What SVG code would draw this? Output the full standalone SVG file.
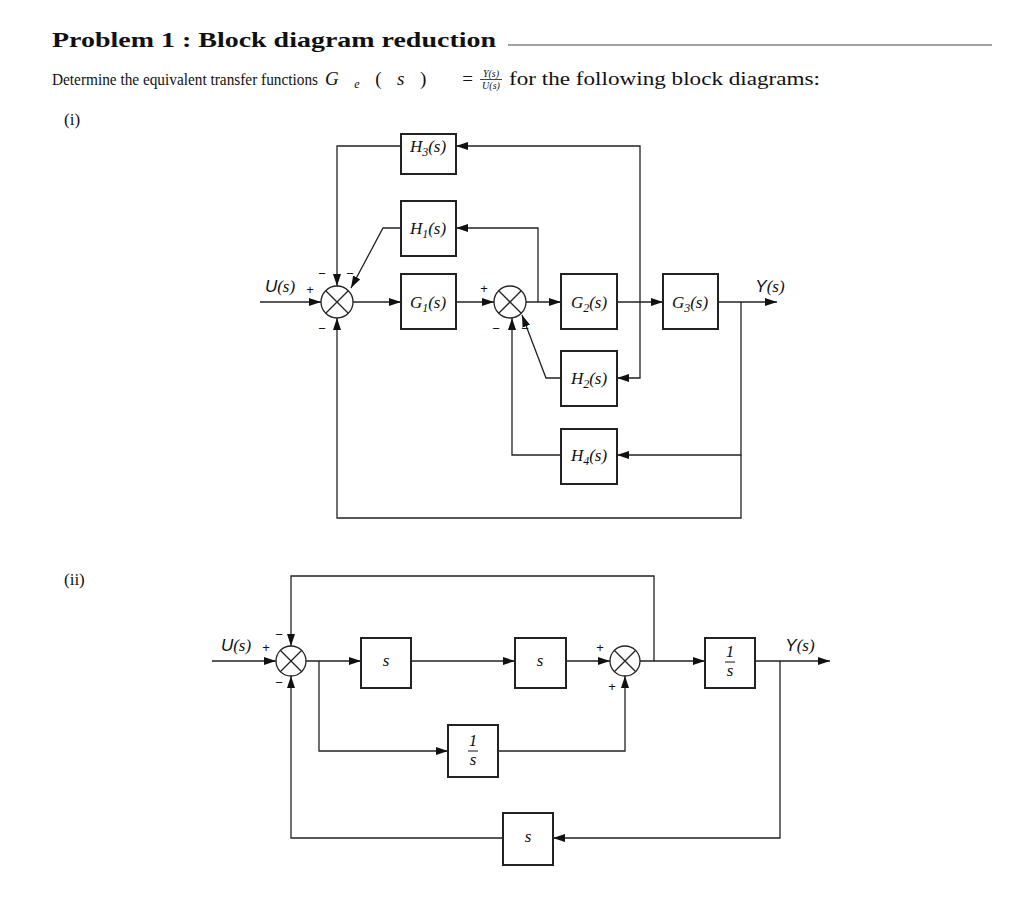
<svg xmlns="http://www.w3.org/2000/svg" width="1024" height="899" viewBox="0 0 1024 899">
<defs>
<marker id="ar" markerWidth="12" markerHeight="8" refX="12" refY="4" orient="auto" markerUnits="userSpaceOnUse"><path d="M0,0L12,4L0,8z" fill="#111"/></marker>
<style>
.b{fill:#fff;stroke:#222;stroke-width:2}
.c{fill:none;stroke:#222;stroke-width:1.3}
.l{fill:none;stroke:#222;stroke-width:1.3}
.t{font-family:"Liberation Serif",serif;font-style:italic;font-size:17px;text-anchor:middle;fill:#111}
.s{font-family:"Liberation Sans",sans-serif;font-size:13px;fill:#111;text-anchor:middle}
.h{font-family:"Liberation Serif",serif;fill:#111}
</style>
</defs>
<rect width="1024" height="899" fill="#fff"/>
<text class="h" x="52" y="47" font-size="22" font-weight="bold" textLength="444" lengthAdjust="spacingAndGlyphs">Problem 1 : Block diagram reduction</text>
<line x1="508" y1="45" x2="992" y2="45" stroke="#444" stroke-width="1"/>
<text class="h" x="52" y="85" font-size="17" textLength="266" lengthAdjust="spacingAndGlyphs">Determine the equivalent transfer functions</text>
<text class="h" x="325" y="85" font-size="19" textLength="148" lengthAdjust="spacing"><tspan font-style="italic">G</tspan><tspan font-style="italic" font-size="12" dy="3">e</tspan><tspan dy="-3">(</tspan><tspan font-style="italic">s</tspan>) =</text>
<text class="h" x="509" y="85" font-size="18" textLength="311" lengthAdjust="spacingAndGlyphs">for the following block diagrams:</text>
<text class="h" x="491" y="77" font-size="10" font-style="italic" text-anchor="middle">Y(s)</text>
<line x1="480" y1="79.5" x2="502" y2="79.5" stroke="#111" stroke-width="0.8"/>
<text class="h" x="491" y="89" font-size="10" font-style="italic" text-anchor="middle">U(s)</text>
<text class="h" x="64" y="125" font-size="17">(i)</text>
<text class="h" x="64" y="585" font-size="17">(ii)</text>

<g id="connectors1">
<path class="l" d="M260,302H321" marker-end="url(#ar)"/>
<path class="l" d="M353,302H401" marker-end="url(#ar)"/>
<path class="l" d="M456,302H494" marker-end="url(#ar)"/>
<path class="l" d="M526,302H561" marker-end="url(#ar)"/>
<path class="l" d="M617,302H663" marker-end="url(#ar)"/>
<path class="l" d="M718,302H777" marker-end="url(#ar)"/>
<path class="l" d="M401,146H337V286" marker-end="url(#ar)"/>
<path class="l" d="M401,228H383L351,288" marker-end="url(#ar)"/>
<path class="l" d="M538,302V228H456" marker-end="url(#ar)"/>
<path class="l" d="M640,302V146H456" marker-end="url(#ar)"/>
<path class="l" d="M640,302V378H617" marker-end="url(#ar)"/>
<path class="l" d="M561,378H546L522,315" marker-end="url(#ar)"/>
<path class="l" d="M741,302V455H617" marker-end="url(#ar)"/>
<path class="l" d="M561,455H512V318" marker-end="url(#ar)"/>
<path class="l" d="M741,455V518H337V318" marker-end="url(#ar)"/>
</g>
<g id="sum1"><circle class="c" cx="337" cy="302" r="16"/><path class="l" d="M326,291L348,313M348,291L326,313"/></g>
<g id="sum2"><circle class="c" cx="510" cy="302" r="16"/><path class="l" d="M499,291L521,313M521,291L499,313"/></g>
<g id="H3"><rect class="b" x="401" y="134" width="55" height="40"/><text class="t" x="428" y="152">H<tspan font-size="12" dy="4">3</tspan><tspan dy="-4">(s)</tspan></text></g>
<g id="H1"><rect class="b" x="401" y="201" width="55" height="55"/><text class="t" x="428" y="234">H<tspan font-size="12" dy="4">1</tspan><tspan dy="-4">(s)</tspan></text></g>
<g id="G1"><rect class="b" x="401" y="274" width="55" height="55"/><text class="t" x="428" y="308">G<tspan font-size="12" dy="4">1</tspan><tspan dy="-4">(s)</tspan></text></g>
<g id="G2"><rect class="b" x="561" y="274" width="56" height="55"/><text class="t" x="589" y="308">G<tspan font-size="12" dy="4">2</tspan><tspan dy="-4">(s)</tspan></text></g>
<g id="G3"><rect class="b" x="663" y="274" width="55" height="55"/><text class="t" x="690" y="308">G<tspan font-size="12" dy="4">3</tspan><tspan dy="-4">(s)</tspan></text></g>
<g id="H2"><rect class="b" x="561" y="351" width="56" height="55"/><text class="t" x="589" y="384">H<tspan font-size="12" dy="4">2</tspan><tspan dy="-4">(s)</tspan></text></g>
<g id="H4"><rect class="b" x="561" y="429" width="56" height="55"/><text class="t" x="589" y="461">H<tspan font-size="12" dy="4">4</tspan><tspan dy="-4">(s)</tspan></text></g>
<g id="labels1">
<text class="t" x="280" y="292" font-style="normal"><tspan font-family="Liberation Sans" font-style="italic">U</tspan>(s)</text>
<text class="s" x="310" y="294">+</text>
<text class="s" x="322" y="278">−</text><text class="s" x="350" y="278">−</text>
<text class="s" x="322" y="333">−</text>
<text class="s" x="484" y="293">+</text>
<text class="s" x="496" y="333">−</text><text class="s" x="525" y="333">−</text>
<text class="t" x="770" y="292" font-style="normal"><tspan font-family="Liberation Sans" font-style="italic">Y</tspan>(s)</text>
</g>

<g id="connectors2">
<path class="l" d="M212,661H276" marker-end="url(#ar)"/>
<path class="l" d="M306,661H361" marker-end="url(#ar)"/>
<path class="l" d="M411,661H515" marker-end="url(#ar)"/>
<path class="l" d="M566,661H610" marker-end="url(#ar)"/>
<path class="l" d="M640,661H705" marker-end="url(#ar)"/>
<path class="l" d="M755,661H830" marker-end="url(#ar)"/>
<path class="l" d="M654,661V576H291V646" marker-end="url(#ar)"/>
<path class="l" d="M319,661V751H448" marker-end="url(#ar)"/>
<path class="l" d="M498,751H625V676" marker-end="url(#ar)"/>
<path class="l" d="M780,661V838H553" marker-end="url(#ar)"/>
<path class="l" d="M503,838H291V676" marker-end="url(#ar)"/>
</g>
<g id="sumA"><circle class="c" cx="291" cy="661" r="15"/><path class="l" d="M280,650L302,672M302,650L280,672"/></g>
<g id="sumB"><circle class="c" cx="625" cy="661" r="15"/><path class="l" d="M614,650L636,672M636,650L614,672"/></g>
<g id="S1"><rect class="b" x="361" y="638" width="50" height="50"/><text class="t" x="386" y="666" font-size="14">s</text></g>
<g id="S2"><rect class="b" x="515" y="638" width="51" height="50"/><text class="t" x="540" y="666" font-size="14">s</text></g>
<g id="I1"><rect class="b" x="705" y="638" width="50" height="50"/><text class="t" x="730" y="657" font-size="13" font-style="normal">1</text><line x1="725" y1="662" x2="735" y2="662" stroke="#111"/><text class="t" x="730" y="676" font-size="13">s</text></g>
<g id="I2"><rect class="b" x="448" y="725" width="50" height="52"/><text class="t" x="473" y="746" font-size="13" font-style="normal">1</text><line x1="468" y1="751" x2="478" y2="751" stroke="#111"/><text class="t" x="473" y="765" font-size="13">s</text></g>
<g id="S3"><rect class="b" x="503" y="813" width="50" height="52"/><text class="t" x="528" y="842" font-size="14">s</text></g>
<g id="labels2">
<text class="t" x="236" y="651" font-style="normal"><tspan font-family="Liberation Sans" font-style="italic">U</tspan>(s)</text>
<text class="s" x="266" y="652">+</text>
<text class="s" x="279" y="639">−</text>
<text class="s" x="279" y="687">−</text>
<text class="s" x="600" y="652">+</text>
<text class="s" x="612" y="691">+</text>
<text class="t" x="800" y="651" font-style="normal"><tspan font-family="Liberation Sans" font-style="italic">Y</tspan>(s)</text>
</g>
</svg>
